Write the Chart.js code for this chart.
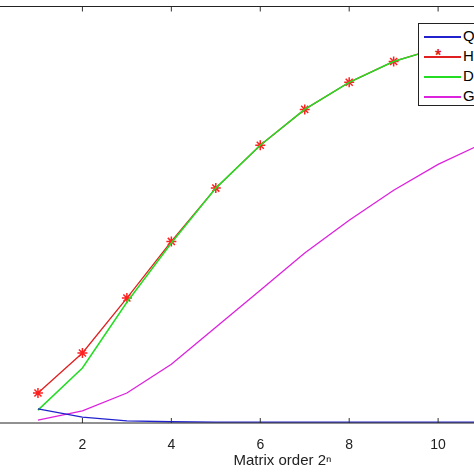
<!DOCTYPE html>
<html><head><meta charset="utf-8">
<script src="https://cdn.jsdelivr.net/npm/chart.js@4"></script>
<style>
body{margin:0;width:474px;height:474px;overflow:hidden;background:#fff;position:relative;font-family:"Liberation Sans",Arial,sans-serif}
#wrap{position:absolute;left:-13px;top:0;width:591px;height:474px}
#leg{position:absolute;left:418px;top:23px;width:80px;height:81px;border:1px solid #222;background:#fff;font-size:15px}
.r{position:absolute;left:0;height:20px;width:80px}
.r i{position:absolute;left:5px;top:9px;width:37px;height:1.5px}
.r span{position:absolute;left:44px;top:0}
</style></head><body>
<div id="wrap"><canvas id="c"></canvas></div>
<div id="leg">
<div class="r" style="top:3px"><i style="background:#2222cc"></i><span>QR</span></div>
<div class="r" style="top:23px"><i style="background:#e02020"></i><b style="position:absolute;left:16px;top:0;color:#e02020;font-size:16px">*</b><span>HT</span></div>
<div class="r" style="top:43px"><i style="background:#22dd22"></i><span>DC</span></div>
<div class="r" style="top:63px"><i style="background:#dd22dd"></i><span>GS</span></div>
</div>
<script>
const xs=[1,2,3,4,5,6,7,8,9,10,11,12];
const Q=[0.34,0.14,0.05,0.03,0.02,0.02,0.02,0.02,0.02,0.02,0.02,0.02];
const H=[0.72,1.68,3.0,4.36,5.64,6.67,7.53,8.18,8.68,9.0,9.25,9.4];
const D=[0.31,1.32,2.9,4.32,5.64,6.67,7.53,8.18,8.68,9.0,9.25,9.4];
const G=[0.07,0.29,0.72,1.41,2.3,3.19,4.08,4.87,5.59,6.21,6.71,7.1];
const xTicks=[2,4,6,8,10,12];
const yTicks=[0,1,2,3,4,5,6,7,8,9,10];
const pts=a=>a.map((v,i)=>({x:xs[i],y:v}));
const ticksPlugin={id:'tk',afterDraw(ch){const c=ch.ctx,x=ch.scales.x,y=ch.scales.y;c.save();c.strokeStyle='#333';c.lineWidth=1;
xTicks.forEach(t=>{const p=x.getPixelForValue(t);c.beginPath();c.moveTo(p,y.bottom);c.lineTo(p,y.bottom-5);c.moveTo(p,y.top);c.lineTo(p,y.top+5);c.stroke();});
yTicks.forEach(t=>{const p=y.getPixelForValue(t);c.beginPath();c.moveTo(x.left,p);c.lineTo(x.left+5,p);c.stroke();});
c.strokeStyle='#222';c.strokeRect(x.left,y.top,x.right-x.left,y.bottom-y.top);c.restore();}};
new Chart(document.getElementById('c'),{type:'line',
data:{datasets:[
{label:'QR',data:pts(Q),borderColor:'#2222cc',borderWidth:1.3,pointRadius:0},
{label:'DC',data:pts(D),borderColor:'#22dd22',borderWidth:1.5,pointRadius:0},
{label:'HT',data:pts(H),borderColor:'#e02020',borderWidth:1.3,pointStyle:'star',pointRadius:5,pointBorderColor:'#ff2020',pointBorderWidth:1.5},
{label:'GS',data:pts(G),borderColor:'#dd22dd',borderWidth:1.3,pointRadius:0}]},
options:{responsive:true,maintainAspectRatio:false,animation:false,layout:{padding:{top:6,left:0,right:0,bottom:0}},
plugins:{legend:{display:false},tooltip:{enabled:false}},
scales:{
x:{type:'linear',min:0,max:13,afterBuildTicks:s=>{s.ticks=xTicks.map(v=>({value:v}));},
afterFit:s=>{s.height=51;},
grid:{display:false},border:{display:false},
ticks:{color:'#222',font:{size:14,family:'Liberation Sans'},padding:6},
title:{display:true,text:'Matrix order 2ⁿ',color:'#222',font:{size:15,family:'Liberation Sans'},padding:{top:4}}},
y:{min:0,max:10,afterFit:s=>{s.width=0;},ticks:{display:false},grid:{display:false},border:{display:false}}}},
plugins:[ticksPlugin]});
</script></body></html>
